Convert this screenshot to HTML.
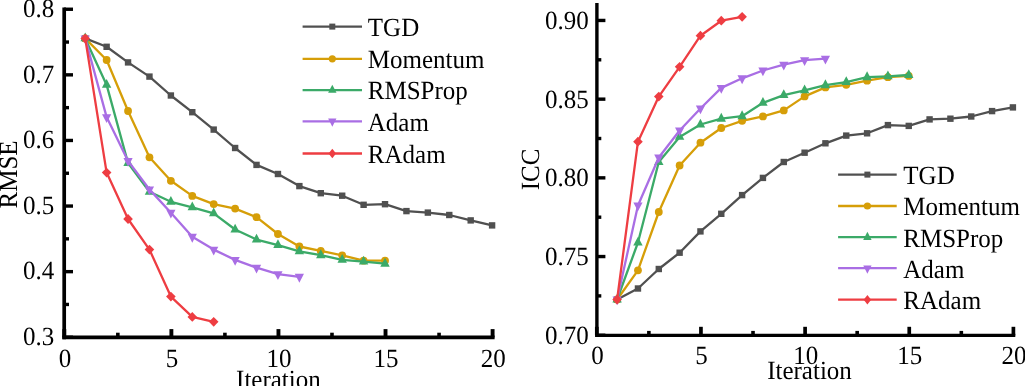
<!DOCTYPE html>
<html><head><meta charset="utf-8"><style>
html,body{margin:0;padding:0;background:#fff;}
body{width:1025px;height:386px;overflow:hidden;position:relative;}
svg{position:absolute;left:0;top:0;display:block;will-change:transform;}
.t{font-family:"Liberation Serif",serif;font-size:25px;fill:#000;text-rendering:geometricPrecision;}
</style></head><body>
<svg width="1025" height="386" viewBox="0 0 1025 386">
<line x1="64.2" y1="7.5" x2="64.2" y2="339.2" stroke="#000" stroke-width="3.7"/>
<line x1="62.35" y1="337.45" x2="494.6" y2="337.45" stroke="#000" stroke-width="3.7"/>
<line x1="64" y1="9.25" x2="73" y2="9.25" stroke="#000" stroke-width="3.4"/>
<text transform="translate(54.3 17.05) scale(1 1.05)" class="t" text-anchor="end">0.8</text>
<line x1="64" y1="74.85" x2="73" y2="74.85" stroke="#000" stroke-width="3.4"/>
<text transform="translate(54.3 82.65) scale(1 1.05)" class="t" text-anchor="end">0.7</text>
<line x1="64" y1="140.45" x2="73" y2="140.45" stroke="#000" stroke-width="3.4"/>
<text transform="translate(54.3 148.25) scale(1 1.05)" class="t" text-anchor="end">0.6</text>
<line x1="64" y1="206.05" x2="73" y2="206.05" stroke="#000" stroke-width="3.4"/>
<text transform="translate(54.3 213.85) scale(1 1.05)" class="t" text-anchor="end">0.5</text>
<line x1="64" y1="271.65" x2="73" y2="271.65" stroke="#000" stroke-width="3.4"/>
<text transform="translate(54.3 279.45) scale(1 1.05)" class="t" text-anchor="end">0.4</text>
<line x1="64" y1="337.25" x2="73" y2="337.25" stroke="#000" stroke-width="3.4"/>
<text transform="translate(54.3 345.05) scale(1 1.05)" class="t" text-anchor="end">0.3</text>
<line x1="64" y1="42.05" x2="69" y2="42.05" stroke="#000" stroke-width="3.4"/>
<line x1="64" y1="107.65" x2="69" y2="107.65" stroke="#000" stroke-width="3.4"/>
<line x1="64" y1="173.25" x2="69" y2="173.25" stroke="#000" stroke-width="3.4"/>
<line x1="64" y1="238.85" x2="69" y2="238.85" stroke="#000" stroke-width="3.4"/>
<line x1="64" y1="304.45" x2="69" y2="304.45" stroke="#000" stroke-width="3.4"/>
<line x1="64.3" y1="329.1" x2="64.3" y2="337.5" stroke="#000" stroke-width="3.9"/>
<text transform="translate(64.9 366.7) scale(1 1.05)" class="t" text-anchor="middle">0</text>
<line x1="171.38" y1="329.1" x2="171.38" y2="337.5" stroke="#000" stroke-width="3.9"/>
<text transform="translate(171.97 366.7) scale(1 1.05)" class="t" text-anchor="middle">5</text>
<line x1="278.45" y1="329.1" x2="278.45" y2="337.5" stroke="#000" stroke-width="3.9"/>
<text transform="translate(279.05 366.7) scale(1 1.05)" class="t" text-anchor="middle">10</text>
<line x1="385.52" y1="329.1" x2="385.52" y2="337.5" stroke="#000" stroke-width="3.9"/>
<text transform="translate(386.12 366.7) scale(1 1.05)" class="t" text-anchor="middle">15</text>
<line x1="492.6" y1="329.1" x2="492.6" y2="337.5" stroke="#000" stroke-width="3.9"/>
<text transform="translate(493.2 366.7) scale(1 1.05)" class="t" text-anchor="middle">20</text>
<line x1="117.84" y1="332.7" x2="117.84" y2="337.5" stroke="#000" stroke-width="3.6"/>
<line x1="224.91" y1="332.7" x2="224.91" y2="337.5" stroke="#000" stroke-width="3.6"/>
<line x1="331.99" y1="332.7" x2="331.99" y2="337.5" stroke="#000" stroke-width="3.6"/>
<line x1="439.06" y1="332.7" x2="439.06" y2="337.5" stroke="#000" stroke-width="3.6"/>
<text transform="translate(278.4 388) scale(1 1.05)" class="t" text-anchor="middle">Iteration</text>
<text transform="translate(17.3 174.4) rotate(-90) scale(1 1.05)" class="t" text-anchor="middle">RMSE</text>
<polyline points="85.22,38.4 106.63,46.8 128.05,62.4 149.46,76.6 170.88,95.5 192.29,112.2 213.7,129.6 235.12,148 256.53,164.9 277.95,174 299.37,186.1 320.78,193.2 342.19,195.7 363.61,204.8 385.02,204.2 406.44,211.1 427.86,212.6 449.27,215 470.69,220.4 492.1,225.4" fill="none" stroke="#505050" stroke-width="2.3" stroke-linejoin="round"/>
<rect x="82.02" y="35.2" width="6.4" height="6.4" fill="#505050"/>
<rect x="103.43" y="43.6" width="6.4" height="6.4" fill="#505050"/>
<rect x="124.85" y="59.2" width="6.4" height="6.4" fill="#505050"/>
<rect x="146.26" y="73.4" width="6.4" height="6.4" fill="#505050"/>
<rect x="167.68" y="92.3" width="6.4" height="6.4" fill="#505050"/>
<rect x="189.09" y="109" width="6.4" height="6.4" fill="#505050"/>
<rect x="210.5" y="126.4" width="6.4" height="6.4" fill="#505050"/>
<rect x="231.92" y="144.8" width="6.4" height="6.4" fill="#505050"/>
<rect x="253.33" y="161.7" width="6.4" height="6.4" fill="#505050"/>
<rect x="274.75" y="170.8" width="6.4" height="6.4" fill="#505050"/>
<rect x="296.17" y="182.9" width="6.4" height="6.4" fill="#505050"/>
<rect x="317.58" y="190" width="6.4" height="6.4" fill="#505050"/>
<rect x="339" y="192.5" width="6.4" height="6.4" fill="#505050"/>
<rect x="360.41" y="201.6" width="6.4" height="6.4" fill="#505050"/>
<rect x="381.82" y="201" width="6.4" height="6.4" fill="#505050"/>
<rect x="403.24" y="207.9" width="6.4" height="6.4" fill="#505050"/>
<rect x="424.66" y="209.4" width="6.4" height="6.4" fill="#505050"/>
<rect x="446.07" y="211.8" width="6.4" height="6.4" fill="#505050"/>
<rect x="467.49" y="217.2" width="6.4" height="6.4" fill="#505050"/>
<rect x="488.9" y="222.2" width="6.4" height="6.4" fill="#505050"/>
<polyline points="85.22,38.4 106.63,60 128.05,111 149.46,157.3 170.88,180.8 192.29,195.9 213.7,204.1 235.12,208.6 256.53,217.2 277.95,234 299.37,246.5 320.78,250.9 342.19,255.3 363.61,260.7 385.02,260.7" fill="none" stroke="#D69E08" stroke-width="2.3" stroke-linejoin="round"/>
<circle cx="85.22" cy="38.4" r="3.9" fill="#D69E08"/>
<circle cx="106.63" cy="60" r="3.9" fill="#D69E08"/>
<circle cx="128.05" cy="111" r="3.9" fill="#D69E08"/>
<circle cx="149.46" cy="157.3" r="3.9" fill="#D69E08"/>
<circle cx="170.88" cy="180.8" r="3.9" fill="#D69E08"/>
<circle cx="192.29" cy="195.9" r="3.9" fill="#D69E08"/>
<circle cx="213.7" cy="204.1" r="3.9" fill="#D69E08"/>
<circle cx="235.12" cy="208.6" r="3.9" fill="#D69E08"/>
<circle cx="256.53" cy="217.2" r="3.9" fill="#D69E08"/>
<circle cx="277.95" cy="234" r="3.9" fill="#D69E08"/>
<circle cx="299.37" cy="246.5" r="3.9" fill="#D69E08"/>
<circle cx="320.78" cy="250.9" r="3.9" fill="#D69E08"/>
<circle cx="342.19" cy="255.3" r="3.9" fill="#D69E08"/>
<circle cx="363.61" cy="260.7" r="3.9" fill="#D69E08"/>
<circle cx="385.02" cy="260.7" r="3.9" fill="#D69E08"/>
<polyline points="85.22,38.4 106.63,84.9 128.05,163.1 149.46,191.8 170.88,201.8 192.29,207.3 213.7,213.3 235.12,229.5 256.53,239.6 277.95,245.1 299.37,251.3 320.78,255.2 342.19,259.8 363.61,261.6 385.02,263.7" fill="none" stroke="#3BAA68" stroke-width="2.3" stroke-linejoin="round"/>
<polygon points="80.52,41.33 89.92,41.33 85.22,32.53" fill="#3BAA68"/>
<polygon points="101.93,87.83 111.33,87.83 106.63,79.03" fill="#3BAA68"/>
<polygon points="123.35,166.03 132.75,166.03 128.05,157.23" fill="#3BAA68"/>
<polygon points="144.76,194.73 154.16,194.73 149.46,185.93" fill="#3BAA68"/>
<polygon points="166.18,204.73 175.57,204.73 170.88,195.93" fill="#3BAA68"/>
<polygon points="187.59,210.23 196.99,210.23 192.29,201.43" fill="#3BAA68"/>
<polygon points="209,216.23 218.4,216.23 213.7,207.43" fill="#3BAA68"/>
<polygon points="230.42,232.43 239.82,232.43 235.12,223.63" fill="#3BAA68"/>
<polygon points="251.83,242.53 261.23,242.53 256.53,233.73" fill="#3BAA68"/>
<polygon points="273.25,248.03 282.65,248.03 277.95,239.23" fill="#3BAA68"/>
<polygon points="294.67,254.23 304.06,254.23 299.37,245.43" fill="#3BAA68"/>
<polygon points="316.08,258.13 325.48,258.13 320.78,249.33" fill="#3BAA68"/>
<polygon points="337.5,262.73 346.89,262.73 342.19,253.93" fill="#3BAA68"/>
<polygon points="358.91,264.53 368.31,264.53 363.61,255.73" fill="#3BAA68"/>
<polygon points="380.32,266.63 389.72,266.63 385.02,257.83" fill="#3BAA68"/>
<polyline points="85.22,38.4 106.63,117.1 128.05,161 149.46,189.4 170.88,212.7 192.29,236.8 213.7,249.6 235.12,259.9 256.53,267.7 277.95,274.2 299.37,276.8" fill="none" stroke="#A96EE4" stroke-width="2.3" stroke-linejoin="round"/>
<polygon points="80.62,35.47 89.81,35.47 85.22,44.27" fill="#A96EE4"/>
<polygon points="102.03,114.17 111.23,114.17 106.63,122.97" fill="#A96EE4"/>
<polygon points="123.45,158.07 132.65,158.07 128.05,166.87" fill="#A96EE4"/>
<polygon points="144.86,186.47 154.06,186.47 149.46,195.27" fill="#A96EE4"/>
<polygon points="166.28,209.77 175.47,209.77 170.88,218.57" fill="#A96EE4"/>
<polygon points="187.69,233.87 196.89,233.87 192.29,242.67" fill="#A96EE4"/>
<polygon points="209.1,246.67 218.3,246.67 213.7,255.47" fill="#A96EE4"/>
<polygon points="230.52,256.97 239.72,256.97 235.12,265.77" fill="#A96EE4"/>
<polygon points="251.93,264.77 261.13,264.77 256.53,273.57" fill="#A96EE4"/>
<polygon points="273.35,271.27 282.55,271.27 277.95,280.07" fill="#A96EE4"/>
<polygon points="294.76,273.87 303.97,273.87 299.37,282.67" fill="#A96EE4"/>
<polyline points="85.22,38.4 106.63,172.6 128.05,219 149.46,249.6 170.88,296.6 192.29,316.9 213.7,321.8" fill="none" stroke="#EE3D42" stroke-width="2.3" stroke-linejoin="round"/>
<polygon points="85.22,33.5 90.02,38.4 85.22,43.3 80.42,38.4" fill="#EE3D42"/>
<polygon points="106.63,167.7 111.43,172.6 106.63,177.5 101.83,172.6" fill="#EE3D42"/>
<polygon points="128.05,214.1 132.85,219 128.05,223.9 123.25,219" fill="#EE3D42"/>
<polygon points="149.46,244.7 154.26,249.6 149.46,254.5 144.66,249.6" fill="#EE3D42"/>
<polygon points="170.88,291.7 175.68,296.6 170.88,301.5 166.07,296.6" fill="#EE3D42"/>
<polygon points="192.29,312 197.09,316.9 192.29,321.8 187.49,316.9" fill="#EE3D42"/>
<polygon points="213.7,316.9 218.5,321.8 213.7,326.7 208.9,321.8" fill="#EE3D42"/>
<line x1="302.6" y1="26.6" x2="362" y2="26.6" stroke="#505050" stroke-width="2.3"/>
<rect x="329.3" y="23.6" width="6" height="6" fill="#505050"/>
<text transform="translate(367.8 35.9) scale(1 1.05)" class="t">TGD</text>
<line x1="302.6" y1="58.8" x2="362" y2="58.8" stroke="#D69E08" stroke-width="2.3"/>
<circle cx="332.3" cy="58.8" r="3.6" fill="#D69E08"/>
<text transform="translate(367.8 68.1) scale(1 1.05)" class="t">Momentum</text>
<line x1="302.6" y1="90.1" x2="362" y2="90.1" stroke="#3BAA68" stroke-width="2.3"/>
<polygon points="328.1,92.83 336.5,92.83 332.3,84.63" fill="#3BAA68"/>
<text transform="translate(367.8 99.4) scale(1 1.05)" class="t">RMSProp</text>
<line x1="302.6" y1="121.3" x2="362" y2="121.3" stroke="#A96EE4" stroke-width="2.3"/>
<polygon points="328.15,118.57 336.45,118.57 332.3,126.77" fill="#A96EE4"/>
<text transform="translate(367.8 130.6) scale(1 1.05)" class="t">Adam</text>
<line x1="302.6" y1="153.5" x2="362" y2="153.5" stroke="#EE3D42" stroke-width="2.3"/>
<polygon points="332.3,148.8 336.05,153.5 332.3,158.2 328.55,153.5" fill="#EE3D42"/>
<text transform="translate(367.8 162.8) scale(1 1.05)" class="t">RAdam</text>
<line x1="596.9" y1="3.1" x2="596.9" y2="337.1" stroke="#000" stroke-width="3.4"/>
<line x1="595.2" y1="335.45" x2="1015.3" y2="335.45" stroke="#000" stroke-width="3.3"/>
<line x1="597" y1="20.45" x2="605.4" y2="20.45" stroke="#000" stroke-width="3.4"/>
<text transform="translate(588.7 28.95) scale(1 1.05)" class="t" text-anchor="end">0.90</text>
<line x1="597" y1="99.15" x2="605.4" y2="99.15" stroke="#000" stroke-width="3.4"/>
<text transform="translate(588.7 107.65) scale(1 1.05)" class="t" text-anchor="end">0.85</text>
<line x1="597" y1="177.85" x2="605.4" y2="177.85" stroke="#000" stroke-width="3.4"/>
<text transform="translate(588.7 186.35) scale(1 1.05)" class="t" text-anchor="end">0.80</text>
<line x1="597" y1="256.55" x2="605.4" y2="256.55" stroke="#000" stroke-width="3.4"/>
<text transform="translate(588.7 265.05) scale(1 1.05)" class="t" text-anchor="end">0.75</text>
<line x1="597" y1="335.25" x2="605.4" y2="335.25" stroke="#000" stroke-width="3.4"/>
<text transform="translate(588.7 343.75) scale(1 1.05)" class="t" text-anchor="end">0.70</text>
<line x1="597" y1="59.8" x2="601.3" y2="59.8" stroke="#000" stroke-width="3.4"/>
<line x1="597" y1="138.5" x2="601.3" y2="138.5" stroke="#000" stroke-width="3.4"/>
<line x1="597" y1="217.2" x2="601.3" y2="217.2" stroke="#000" stroke-width="3.4"/>
<line x1="597" y1="295.9" x2="601.3" y2="295.9" stroke="#000" stroke-width="3.4"/>
<line x1="596.8" y1="326.8" x2="596.8" y2="335.5" stroke="#000" stroke-width="3.7"/>
<text transform="translate(597.4 364.4) scale(1 1.05)" class="t" text-anchor="middle">0</text>
<line x1="700.95" y1="326.8" x2="700.95" y2="335.5" stroke="#000" stroke-width="3.7"/>
<text transform="translate(701.55 364.4) scale(1 1.05)" class="t" text-anchor="middle">5</text>
<line x1="805.1" y1="326.8" x2="805.1" y2="335.5" stroke="#000" stroke-width="3.7"/>
<text transform="translate(805.7 364.4) scale(1 1.05)" class="t" text-anchor="middle">10</text>
<line x1="909.25" y1="326.8" x2="909.25" y2="335.5" stroke="#000" stroke-width="3.7"/>
<text transform="translate(909.85 364.4) scale(1 1.05)" class="t" text-anchor="middle">15</text>
<line x1="1013.4" y1="326.8" x2="1013.4" y2="335.5" stroke="#000" stroke-width="3.7"/>
<text transform="translate(1014 364.4) scale(1 1.05)" class="t" text-anchor="middle">20</text>
<line x1="648.88" y1="330.9" x2="648.88" y2="335.5" stroke="#000" stroke-width="3.6"/>
<line x1="753.02" y1="330.9" x2="753.02" y2="335.5" stroke="#000" stroke-width="3.6"/>
<line x1="857.17" y1="330.9" x2="857.17" y2="335.5" stroke="#000" stroke-width="3.6"/>
<line x1="961.32" y1="330.9" x2="961.32" y2="335.5" stroke="#000" stroke-width="3.6"/>
<text transform="translate(809.5 379.2) scale(1 1.05)" class="t" text-anchor="middle">Iteration</text>
<text transform="translate(539.3 169.5) rotate(-90) scale(1 1.05)" class="t" text-anchor="middle">ICC</text>
<polyline points="617.13,299.5 637.96,288.5 658.79,269 679.62,252.7 700.45,231.4 721.28,213.8 742.11,195.1 762.94,177.9 783.77,162 804.6,152.7 825.43,143.3 846.26,135.6 867.09,133.3 887.92,125.1 908.75,125.9 929.58,119.4 950.41,118.7 971.24,116.5 992.07,111.1 1012.9,107.4" fill="none" stroke="#505050" stroke-width="2.3" stroke-linejoin="round"/>
<rect x="613.93" y="296.3" width="6.4" height="6.4" fill="#505050"/>
<rect x="634.76" y="285.3" width="6.4" height="6.4" fill="#505050"/>
<rect x="655.59" y="265.8" width="6.4" height="6.4" fill="#505050"/>
<rect x="676.42" y="249.5" width="6.4" height="6.4" fill="#505050"/>
<rect x="697.25" y="228.2" width="6.4" height="6.4" fill="#505050"/>
<rect x="718.08" y="210.6" width="6.4" height="6.4" fill="#505050"/>
<rect x="738.91" y="191.9" width="6.4" height="6.4" fill="#505050"/>
<rect x="759.74" y="174.7" width="6.4" height="6.4" fill="#505050"/>
<rect x="780.57" y="158.8" width="6.4" height="6.4" fill="#505050"/>
<rect x="801.4" y="149.5" width="6.4" height="6.4" fill="#505050"/>
<rect x="822.23" y="140.1" width="6.4" height="6.4" fill="#505050"/>
<rect x="843.06" y="132.4" width="6.4" height="6.4" fill="#505050"/>
<rect x="863.89" y="130.1" width="6.4" height="6.4" fill="#505050"/>
<rect x="884.72" y="121.9" width="6.4" height="6.4" fill="#505050"/>
<rect x="905.55" y="122.7" width="6.4" height="6.4" fill="#505050"/>
<rect x="926.38" y="116.2" width="6.4" height="6.4" fill="#505050"/>
<rect x="947.21" y="115.5" width="6.4" height="6.4" fill="#505050"/>
<rect x="968.04" y="113.3" width="6.4" height="6.4" fill="#505050"/>
<rect x="988.87" y="107.9" width="6.4" height="6.4" fill="#505050"/>
<rect x="1009.7" y="104.2" width="6.4" height="6.4" fill="#505050"/>
<polyline points="617.13,299.5 637.96,270.3 658.79,212 679.62,165.5 700.45,142.7 721.28,128 742.11,120.8 762.94,116.4 783.77,110.4 804.6,96.4 825.43,87.4 846.26,84.8 867.09,80.7 887.92,77.2 908.75,75.9" fill="none" stroke="#D69E08" stroke-width="2.3" stroke-linejoin="round"/>
<circle cx="617.13" cy="299.5" r="3.9" fill="#D69E08"/>
<circle cx="637.96" cy="270.3" r="3.9" fill="#D69E08"/>
<circle cx="658.79" cy="212" r="3.9" fill="#D69E08"/>
<circle cx="679.62" cy="165.5" r="3.9" fill="#D69E08"/>
<circle cx="700.45" cy="142.7" r="3.9" fill="#D69E08"/>
<circle cx="721.28" cy="128" r="3.9" fill="#D69E08"/>
<circle cx="742.11" cy="120.8" r="3.9" fill="#D69E08"/>
<circle cx="762.94" cy="116.4" r="3.9" fill="#D69E08"/>
<circle cx="783.77" cy="110.4" r="3.9" fill="#D69E08"/>
<circle cx="804.6" cy="96.4" r="3.9" fill="#D69E08"/>
<circle cx="825.43" cy="87.4" r="3.9" fill="#D69E08"/>
<circle cx="846.26" cy="84.8" r="3.9" fill="#D69E08"/>
<circle cx="867.09" cy="80.7" r="3.9" fill="#D69E08"/>
<circle cx="887.92" cy="77.2" r="3.9" fill="#D69E08"/>
<circle cx="908.75" cy="75.9" r="3.9" fill="#D69E08"/>
<polyline points="617.13,299.5 637.96,242.5 658.79,162 679.62,136.9 700.45,124.5 721.28,118.7 742.11,116.2 762.94,102.8 783.77,95.1 804.6,90.4 825.43,85.2 846.26,82.1 867.09,77.2 887.92,76.3 908.75,75" fill="none" stroke="#3BAA68" stroke-width="2.3" stroke-linejoin="round"/>
<polygon points="612.43,302.43 621.83,302.43 617.13,293.63" fill="#3BAA68"/>
<polygon points="633.26,245.43 642.66,245.43 637.96,236.63" fill="#3BAA68"/>
<polygon points="654.09,164.93 663.49,164.93 658.79,156.13" fill="#3BAA68"/>
<polygon points="674.92,139.83 684.32,139.83 679.62,131.03" fill="#3BAA68"/>
<polygon points="695.75,127.43 705.15,127.43 700.45,118.63" fill="#3BAA68"/>
<polygon points="716.58,121.63 725.98,121.63 721.28,112.83" fill="#3BAA68"/>
<polygon points="737.41,119.13 746.81,119.13 742.11,110.33" fill="#3BAA68"/>
<polygon points="758.24,105.73 767.64,105.73 762.94,96.93" fill="#3BAA68"/>
<polygon points="779.07,98.03 788.47,98.03 783.77,89.23" fill="#3BAA68"/>
<polygon points="799.9,93.33 809.3,93.33 804.6,84.53" fill="#3BAA68"/>
<polygon points="820.73,88.13 830.13,88.13 825.43,79.33" fill="#3BAA68"/>
<polygon points="841.56,85.03 850.96,85.03 846.26,76.23" fill="#3BAA68"/>
<polygon points="862.39,80.13 871.79,80.13 867.09,71.33" fill="#3BAA68"/>
<polygon points="883.22,79.23 892.62,79.23 887.92,70.43" fill="#3BAA68"/>
<polygon points="904.05,77.93 913.45,77.93 908.75,69.13" fill="#3BAA68"/>
<polyline points="617.13,299.5 637.96,205.5 658.79,157.5 679.62,130.5 700.45,108.5 721.28,87.9 742.11,78.3 762.94,70.5 783.77,64.6 804.6,60.2 825.43,58.6" fill="none" stroke="#A96EE4" stroke-width="2.3" stroke-linejoin="round"/>
<polygon points="612.53,296.57 621.73,296.57 617.13,305.37" fill="#A96EE4"/>
<polygon points="633.36,202.57 642.56,202.57 637.96,211.37" fill="#A96EE4"/>
<polygon points="654.19,154.57 663.39,154.57 658.79,163.37" fill="#A96EE4"/>
<polygon points="675.02,127.57 684.22,127.57 679.62,136.37" fill="#A96EE4"/>
<polygon points="695.85,105.57 705.05,105.57 700.45,114.37" fill="#A96EE4"/>
<polygon points="716.68,84.97 725.88,84.97 721.28,93.77" fill="#A96EE4"/>
<polygon points="737.51,75.37 746.71,75.37 742.11,84.17" fill="#A96EE4"/>
<polygon points="758.34,67.57 767.54,67.57 762.94,76.37" fill="#A96EE4"/>
<polygon points="779.17,61.67 788.37,61.67 783.77,70.47" fill="#A96EE4"/>
<polygon points="800,57.27 809.2,57.27 804.6,66.07" fill="#A96EE4"/>
<polygon points="820.83,55.67 830.03,55.67 825.43,64.47" fill="#A96EE4"/>
<polyline points="617.13,299.5 637.96,141.7 658.79,96.6 679.62,66.8 700.45,35.7 721.28,20.7 742.11,16.8" fill="none" stroke="#EE3D42" stroke-width="2.3" stroke-linejoin="round"/>
<polygon points="617.13,294.6 621.93,299.5 617.13,304.4 612.33,299.5" fill="#EE3D42"/>
<polygon points="637.96,136.8 642.76,141.7 637.96,146.6 633.16,141.7" fill="#EE3D42"/>
<polygon points="658.79,91.7 663.59,96.6 658.79,101.5 653.99,96.6" fill="#EE3D42"/>
<polygon points="679.62,61.9 684.42,66.8 679.62,71.7 674.82,66.8" fill="#EE3D42"/>
<polygon points="700.45,30.8 705.25,35.7 700.45,40.6 695.65,35.7" fill="#EE3D42"/>
<polygon points="721.28,15.8 726.08,20.7 721.28,25.6 716.48,20.7" fill="#EE3D42"/>
<polygon points="742.11,11.9 746.91,16.8 742.11,21.7 737.31,16.8" fill="#EE3D42"/>
<line x1="838.1" y1="174.6" x2="896.7" y2="174.6" stroke="#505050" stroke-width="2.3"/>
<rect x="864.4" y="171.6" width="6" height="6" fill="#505050"/>
<text transform="translate(903.3 183.9) scale(1 1.05)" class="t">TGD</text>
<line x1="838.1" y1="206" x2="896.7" y2="206" stroke="#D69E08" stroke-width="2.3"/>
<circle cx="867.4" cy="206" r="3.6" fill="#D69E08"/>
<text transform="translate(903.3 215.3) scale(1 1.05)" class="t">Momentum</text>
<line x1="838.1" y1="237.2" x2="896.7" y2="237.2" stroke="#3BAA68" stroke-width="2.3"/>
<polygon points="863.2,239.93 871.6,239.93 867.4,231.73" fill="#3BAA68"/>
<text transform="translate(903.3 246.5) scale(1 1.05)" class="t">RMSProp</text>
<line x1="838.1" y1="268.2" x2="896.7" y2="268.2" stroke="#A96EE4" stroke-width="2.3"/>
<polygon points="863.25,265.47 871.55,265.47 867.4,273.67" fill="#A96EE4"/>
<text transform="translate(903.3 277.5) scale(1 1.05)" class="t">Adam</text>
<line x1="838.1" y1="299.7" x2="896.7" y2="299.7" stroke="#EE3D42" stroke-width="2.3"/>
<polygon points="867.4,295 871.15,299.7 867.4,304.4 863.65,299.7" fill="#EE3D42"/>
<text transform="translate(903.3 309) scale(1 1.05)" class="t">RAdam</text>
</svg>
</body></html>
